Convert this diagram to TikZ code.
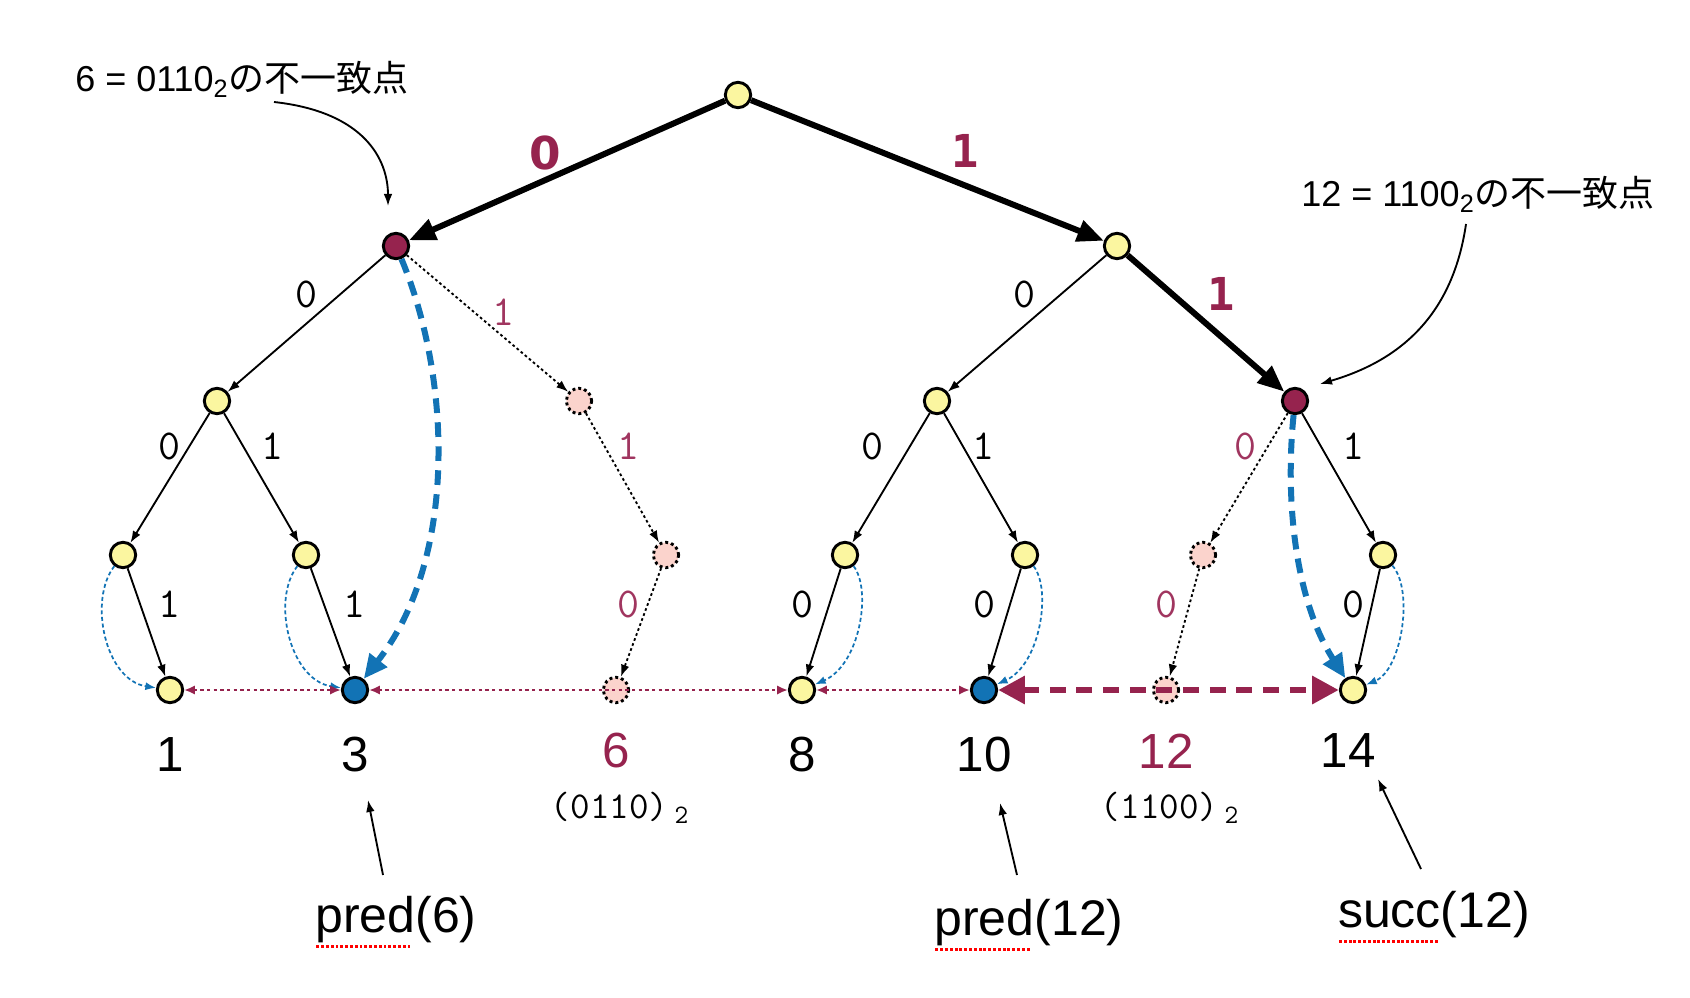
\documentclass[tikz,border=0pt]{standalone}
\usepackage{fontspec}
\setmainfont{Liberation Sans}
\newfontfamily\jpfont{Noto Sans CJK JP}
\newfontfamily\boldmono{DejaVu Sans Mono}
\newfontfamily\boldsans{DejaVu Sans}
\usetikzlibrary{arrows.meta}
\definecolor{mrn}{HTML}{96234E}
\definecolor{mrnl}{HTML}{A0355F}
\definecolor{blu}{HTML}{1273B5}
\definecolor{ylw}{HTML}{FBF6A0}
\definecolor{pnk}{HTML}{FBD3CC}
\newcommand\spellul[1]{\setbox0=\hbox{#1}\rlap{\raisebox{-0.3em}{\color{red}\hbox to \wd0{\leaders\hbox to 3.6pt{\hss\rule{2.2pt}{2.2pt}\hss}\hfill}}}\box0}
\begin{document}
\begin{tikzpicture}[x=0.75pt,y=-0.75pt,
  nd/.style={circle,draw=black,line width=2.2pt,minimum size=19pt,inner sep=0pt,fill=ylw},
  ndm/.style={nd,fill=mrn},
  ndb/.style={nd,fill=blu},
  ndp/.style={circle,draw=black,line width=2.2pt,dash pattern=on 2.2pt off 2.2pt,fill=pnk,minimum size=19pt,inner sep=0pt},
  thickedge/.style={line width=4.5pt,-{Triangle[length=20pt,width=16pt]}},
  thinedge/.style={line width=1.4pt,-{Latex[length=9pt,width=6.5pt]}},
  dotedge/.style={thinedge,dash pattern=on 2pt off 2pt},
  bluebig/.style={blu,line width=4.5pt,dash pattern=on 11pt off 7pt,-{Triangle[length=18pt,width=16pt]}},
  bluesmall/.style={blu,line width=1.3pt,dash pattern=on 3pt off 2pt,-{Latex[length=8pt,width=6pt]}},
  mrndot/.style={mrn,line width=1.8pt,dash pattern=on 2.5pt off 2.5pt,{Latex[length=8pt,width=7pt]}-{Latex[length=8pt,width=7pt]}},
  mrndash/.style={mrn,line width=5pt,dash pattern=on 12pt off 8pt,{Triangle[length=20pt,width=20pt]}-{Triangle[length=20pt,width=20pt]}},
  bl/.style={font={\boldmono\bfseries\fontsize{34pt}{34pt}\selectfont},text=mrn,inner sep=0pt},
  blz/.style={font={\boldsans\bfseries\fontsize{34pt}{34pt}\selectfont},text=mrn,inner sep=0pt},
  sl/.style={font={\ttfamily\fontsize{32pt}{32pt}\selectfont},inner sep=0pt},
  slm/.style={sl,text=mrnl},
  leafnum/.style={font={\fontsize{37pt}{37pt}\selectfont},inner sep=0pt},
  binlbl/.style={font={\ttfamily\fontsize{28.5pt}{28.5pt}\selectfont},inner sep=0pt},
  anno/.style={font={\fontsize{27pt}{30pt}\selectfont},inner sep=0pt},
  botlbl/.style={font={\fontsize{37.5pt}{40pt}\selectfont},inner sep=0pt},
  annoarrow/.style={line width=1.4pt,-{Latex[length=9pt,width=6.5pt]}}
]
\path[use as bounding box] (0,0) rectangle (1690,998);

% tree nodes
\node[nd]  (root) at (738,95) {};
\node[ndm] (m1) at (396,246) {};
\node[nd]  (r1) at (1117,246) {};
\node[nd]  (a2) at (217,401) {};
\node[ndp] (p2) at (579,401) {};
\node[nd]  (c2) at (937,401) {};
\node[ndm] (m2) at (1295,401) {};
\node[nd]  (a3) at (123,555) {};
\node[nd]  (b3) at (306,555) {};
\node[ndp] (p3) at (666,555) {};
\node[nd]  (c3) at (845,555) {};
\node[nd]  (d3) at (1025,555) {};
\node[ndp] (q3) at (1203,555) {};
\node[nd]  (e3) at (1383,555) {};
\node[nd]  (x1) at (170,690) {};
\node[ndb] (x3) at (355,690) {};
\node[ndp] (x6) at (616,690) {};
\node[nd]  (x8) at (802,690) {};
\node[ndb] (x10) at (984,690) {};
\node[ndp] (x12) at (1166,690) {};
\node[nd]  (x14) at (1353,690) {};

% main edges
\draw[thickedge] (root) -- (m1);
\draw[thickedge] (root) -- (r1);
\draw[thickedge] (r1) -- (m2);
\draw[thinedge] (m1) -- (a2);
\draw[dotedge] (m1) -- (p2);
\draw[thinedge] (a2) -- (a3);
\draw[thinedge] (a2) -- (b3);
\draw[dotedge] (p2) -- (p3);
\draw[thinedge] (a3) -- (x1);
\draw[thinedge] (b3) -- (x3);
\draw[dotedge] (p3) -- (x6);
\draw[thinedge] (r1) -- (c2);
\draw[thinedge] (c2) -- (c3);
\draw[thinedge] (c2) -- (d3);
\draw[thinedge] (c3) -- (x8);
\draw[thinedge] (d3) -- (x10);
\draw[dotedge] (m2) -- (q3);
\draw[thinedge] (m2) -- (e3);
\draw[dotedge] (q3) -- (x12);
\draw[thinedge] (e3) -- (x14);

% blue curves
\draw[bluebig] (m1) .. controls (452,380) and (457,560) .. (x3);
\draw[bluebig] (m2) .. controls (1285,500) and (1295,600) .. (x14);
\draw[bluesmall] (a3) .. controls (88,600) and (105,680) .. (x1);
\draw[bluesmall] (b3) .. controls (271,600) and (290,680) .. (x3);
\draw[bluesmall] (c3) .. controls (872,590) and (860,665) .. (x8);
\draw[bluesmall] (d3) .. controls (1052,590) and (1040,665) .. (x10);
\draw[bluesmall] (e3) .. controls (1414,590) and (1402,670) .. (x14);

% leaf row links
\draw[mrndot] (x1) -- (x3);
\draw[mrndot] (x3) -- (x8);
\draw[mrndot] (x8) -- (x10);
\draw[mrndash] (x10) -- (x14);

% edge labels
\node[blz] (e0) at (545,153) {0};
\node[bl] (e1) at (965,151) {1};
\node[bl] (e11) at (1221,294) {1};
\node[sl]  (s1) at (306,294) {0};
\node[slm] (s2) at (503,312) {1};
\node[sl]  (s3) at (169,446) {0};
\node[sl]  (s4) at (272,446) {1};
\node[slm] (s5) at (628,446) {1};
\node[sl]  (s6) at (1024,294) {0};
\node[sl]  (s7) at (872,446) {0};
\node[sl]  (s8) at (983,446) {1};
\node[slm] (s9) at (1245,446) {0};
\node[sl]  (s10) at (1353,446) {1};
\node[sl]  (s11) at (169,604) {1};
\node[sl]  (s12) at (354,604) {1};
\node[slm] (s13) at (628,604) {0};
\node[sl]  (s14) at (802,604) {0};
\node[sl]  (s15) at (984,604) {0};
\node[slm] (s16) at (1166,604) {0};
\node[sl]  (s17) at (1353,604) {0};

% leaf numbers
\node[leafnum] (n1) at (170,755) {1};
\node[leafnum] (n3) at (355,755) {3};
\node[leafnum,text=mrn] (n6) at (616,751) {6};
\node[leafnum] (n8) at (802,755) {8};
\node[leafnum] (n10) at (984,755) {10};
\node[leafnum,text=mrn] (n12) at (1166,751) {12};
\node[leafnum] (n14) at (1348,751) {14};
\node[binlbl] (b6) at (620,808) {(0110)\,\textsubscript{2}};
\node[binlbl] (b12) at (1170,808) {(1100)\,\textsubscript{2}};

% annotations
\node[anno,anchor=west] (t1) at (75,79) {6 = 0110\textsubscript{2}{\jpfont の不一致点}};
\node[anno,anchor=west] (t2) at (1301,194) {12 = 1100\textsubscript{2}{\jpfont の不一致点}};
\coordinate (t1s) at (274,102);
\coordinate (t1e) at (388,206);
\coordinate (t2s) at (1466,224);
\coordinate (t2e) at (1320,384);
\draw[annoarrow] (t1s) .. controls (365,112) and (388,160) .. (t1e);
\draw[annoarrow] (t2s) .. controls (1452,320) and (1395,362) .. (t2e);

% bottom labels
\node[botlbl] (pr6) at (396,922) {\spellul{pred}(6)};
\node[botlbl] (pr12) at (1029,925) {\spellul{pred}(12)};
\node[botlbl] (sc12) at (1434,917) {\spellul{succ}(12)};
\coordinate (u1s) at (383,875);
\coordinate (u1e) at (368,800);
\coordinate (u2s) at (1017,875);
\coordinate (u2e) at (1000,803);
\coordinate (u3s) at (1421,869);
\coordinate (u3e) at (1378,779);
\draw[annoarrow] (u1s) -- (u1e);
\draw[annoarrow] (u2s) -- (u2e);
\draw[annoarrow] (u3s) -- (u3e);
\end{tikzpicture}
\end{document}
